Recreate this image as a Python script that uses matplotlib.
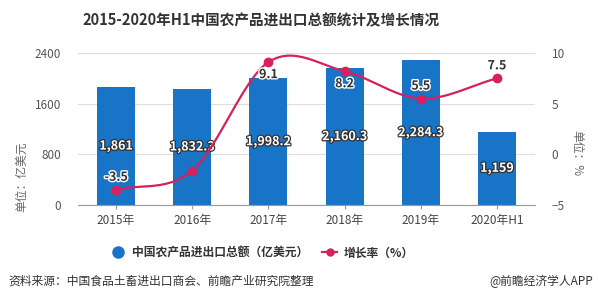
import numpy as np
import matplotlib.pyplot as plt
import matplotlib.patheffects as pe
from matplotlib.lines import Line2D

plt.rcParams['font.family'] = ['Noto Sans CJK SC', 'DejaVu Sans']

years = ["2015年", "2016年", "2017年", "2018年", "2019年", "2020年H1"]
totals = [1861, 1832.3, 1998.2, 2160.3, 2284.3, 1159]
total_labels = ["1,861", "1,832.3", "1,998.2", "2,160.3", "2,284.3", "1,159"]
growth = [-3.5, -1.6, 9.1, 8.2, 5.5, 7.5]
growth_labels = ["-3.5", None, "9.1", "8.2", "5.5", "7.5"]
growth_above = [True, True, False, False, True, True]

bar_c = "#1874c6"
line_c = "#d6215a"

fig = plt.figure(figsize=(5.98, 3.05), dpi=100)
ax = fig.add_axes([78 / 598, 100 / 305, 457 / 598, 152 / 305])
x = np.arange(len(years))

ax.bar(x, totals, width=0.5, color=bar_c, zorder=2)
ax.set_xlim(-0.5, 5.5)
ax.set_ylim(0, 2400)
ax.set_yticks([0, 800, 1600, 2400])
ax.grid(axis="y", color="#dddddd", lw=0.8, zorder=0)
for s in ["top", "right", "left"]:
    ax.spines[s].set_visible(False)
ax.spines["bottom"].set_color("#999999")
ax.tick_params(axis="y", length=0, labelsize=8.5, labelcolor="#555555", pad=12)
ax.tick_params(axis="x", length=3, color="#999999", labelsize=8.5, labelcolor="#444444")
ax.set_xticks(x)
ax.set_xticklabels(years)

stroke_dark = [pe.withStroke(linewidth=1.8, foreground="#333333")]
stroke_white = [pe.withStroke(linewidth=2, foreground="white")]
for xi, v, lab in zip(x, totals, total_labels):
    ax.text(xi, v / 2, lab, ha="center", va="center", fontsize=9, fontweight="bold",
            color="white", path_effects=stroke_dark, zorder=5)

ax2 = ax.twinx()
ax2.set_ylim(-5, 10)
ax2.set_yticks([-5, 0, 5, 10])
for s in ["top", "right", "left", "bottom"]:
    ax2.spines[s].set_visible(False)
ax2.tick_params(axis="y", length=0, labelsize=8.5, labelcolor="#555555", pad=12)

# smooth curve through the points (Catmull-Rom)
pts = np.column_stack([x, growth]).astype(float)
ext = np.vstack([2 * pts[0] - pts[1], pts, 2 * pts[-1] - pts[-2]])
cx, cy = [], []
t = np.linspace(0, 1, 30)
for i in range(1, len(ext) - 2):
    p0, p1, p2, p3 = ext[i - 1], ext[i], ext[i + 1], ext[i + 2]
    seg = 0.5 * ((2 * p1)[None, :] + (-p0 + p2)[None, :] * t[:, None]
                 + (2 * p0 - 5 * p1 + 4 * p2 - p3)[None, :] * t[:, None] ** 2
                 + (-p0 + 3 * p1 - 3 * p2 + p3)[None, :] * t[:, None] ** 3)
    cx.extend(seg[:, 0]); cy.extend(seg[:, 1])
ax2.plot(cx, cy, color=line_c, lw=1.6, zorder=3)
ax2.plot(x, growth, "o", color=line_c, ms=6, zorder=4)
for xi, v, lab, up in zip(x, growth, growth_labels, growth_above):
    if lab is None:
        continue
    ax2.annotate(lab, (xi, v), xytext=(0, 9 if up else -9), textcoords="offset points",
                 ha="center", va="center", fontsize=9, fontweight="bold",
                 color="#333333", path_effects=stroke_white, zorder=6)

fig.text(261 / 598, 0.935, "2015-2020年H1中国农产品进出口总额统计及增长情况", ha="center", va="center",
         fontsize=10.5, fontweight="bold", color="#333333")
fig.text(22 / 598, 128 / 305, "单位：亿美元", rotation=90, ha="center", va="center",
         fontsize=8.5, color="#666666")
fig.text(577 / 598, 152 / 305, "单位：%", rotation=-90, ha="center", va="center",
         fontsize=8.5, color="#666666")

handles = [Line2D([], [], marker="o", ls="none", color=bar_c, ms=8),
           Line2D([], [], marker="o", color=line_c, ms=5, lw=1.6)]
fig.legend(handles, ["中国农产品进出口总额（亿美元）", "增长率（%）"], loc="center",
           bbox_to_anchor=(262 / 598, 1 - 253 / 305), ncol=2, frameon=False,
           prop={"size": 8.5, "weight": "bold"},
           handlelength=1.3, columnspacing=1.2, handletextpad=0.5, labelcolor="#333333")

fig.text(8 / 598, 1 - 281 / 305, "资料来源：中国食品土畜进出口商会、前瞻产业研究院整理", ha="left",
         va="center", fontsize=8.5, color="#333333")
fig.text(593 / 598, 1 - 281 / 305, "@前瞻经济学人APP", ha="right", va="center",
         fontsize=8.5, color="#333333")

fig.savefig("out.png", dpi=100)
